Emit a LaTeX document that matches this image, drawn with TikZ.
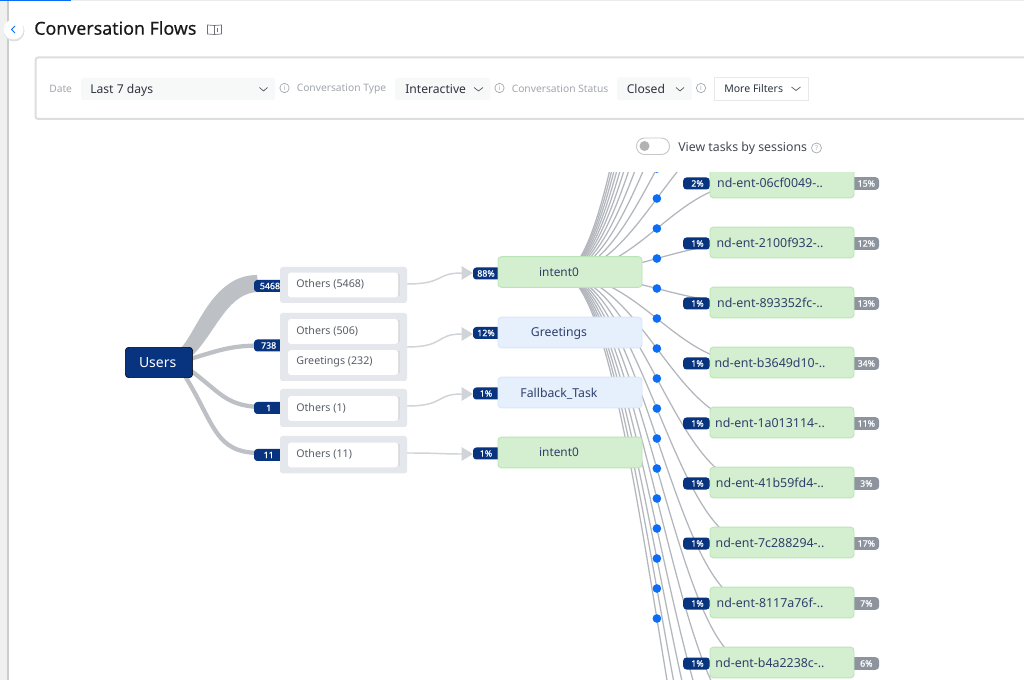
\documentclass[tikz,border=0pt]{standalone}
\usepackage{fontspec}
\setmainfont{Noto Sans}
\newfontfamily\titlefont[FakeBold=0.4]{Noto Sans}
\newfontfamily\badgefont[FakeBold=0.6]{Noto Sans}
\usetikzlibrary{arrows.meta,calc}
\definecolor{navy}{HTML}{08337F}
\definecolor{flowgray}{HTML}{B3B7BD}
\definecolor{bandgray}{HTML}{BDC1C6}
\definecolor{arrowgray}{HTML}{D0D3D7}
\definecolor{contgray}{HTML}{E4E7EB}
\definecolor{greenfill}{HTML}{D3EFCF}
\definecolor{greenline}{HTML}{BBE5B7}
\definecolor{bluefill}{HTML}{E6F0FD}
\definecolor{blueline}{HTML}{D8E6FB}
\definecolor{dotblue}{HTML}{0B6CF5}
\definecolor{badgegray}{HTML}{8D949E}
\definecolor{labelgray}{HTML}{A2A6AD}
\definecolor{textdark}{HTML}{2E3440}
\definecolor{ddfill}{HTML}{F7F8F8}
\definecolor{nodetext}{HTML}{2F3F6B}
\newcommand{\px}[1]{\fontsize{#1}{#1}\selectfont}
\tikzset{
  x=0.75pt,y=-0.75pt,
  box/.style={inner sep=0,outer sep=0,anchor=north west},
  flowline/.style={draw=flowgray,line width=0.95pt},
  link/.style={draw=bandgray,line width=3.2pt},
  feed/.style={draw=arrowgray,line width=1.1pt,-{Triangle[length=8.5pt,width=10pt]}},
  bluedot/.style={circle,fill=dotblue,minimum size=6.5pt,inner sep=0,draw=none},
  navybadge/.style={fill=navy,rounded corners=2.5pt,text=white,inner sep=0,minimum height=9pt,font=\badgefont\px{6.6}},
  graybadge/.style={fill=badgegray,rounded corners=2.5pt,text=white,inner sep=0,minimum height=9.4pt,minimum width=21pt,font=\badgefont\px{6.6}},
  greennode/.style={draw=greenline,fill=greenfill,line width=.7pt,rounded corners=2.5pt,minimum width=108pt,minimum height=23pt,inner sep=0},
  bluenode/.style={draw=blueline,fill=bluefill,line width=.7pt,rounded corners=2.5pt,minimum width=108pt,minimum height=23pt,inner sep=0},
  nodelabel/.style={text=nodetext,font=\px{9.2},inner sep=0},
  container/.style={fill=contgray,rounded corners=2pt,inner sep=0},
  whitebox/.style={fill=white,rounded corners=2pt,inner sep=0,minimum width=82.5pt,minimum height=18.5pt},
  otherlabel/.style={text=textdark!80,font=\px{8},inner sep=0,anchor=west},
  filterlabel/.style={text=labelgray,font=\px{7.7},inner sep=0,anchor=west},
  ddown/.style={fill=ddfill,rounded corners=2pt,inner sep=0},
  ddtext/.style={text=textdark,font=\px{9.1},inner sep=0,anchor=west},
  chev/.style={draw=textdark!85,line width=.5pt},
  infoicon/.style={circle,draw=labelgray,line width=.5pt,minimum size=7pt,inner sep=0,text=labelgray,font=\px{5}},
}
\begin{document}
\begin{tikzpicture}
\useasboundingbox (0,0) rectangle (1024,680);
\fill[white] (0,0) rectangle (1024,680);
% page chrome
\fill[black!6] (0,0) rectangle (7,680);
\fill[black!20] (7,0) rectangle (8.5,680);
\fill[black!8] (71,0) rectangle (1024,1.5);
\fill[dotblue] (0,0) rectangle (71,1.5);
\fill[black!12] (14,31) circle[radius=10.5];
\node[circle,fill=white,minimum size=15pt,inner sep=0] (back) at (13.5,29.5) {};
\draw[dotblue,line width=.6pt] (15,26) -- (11.5,29.5) -- (15,33);
\node[anchor=west,inner sep=0,font=\titlefont\px{13.35},text=black!90] (title) at (34,28) {Conversation Flows};
% book icon
\draw[textdark!70,line width=.5pt] (207.5,25) -- (214.5,25.5) -- (221.5,25) -- (221.5,34) -- (214.5,34.5) -- (207.5,34) -- cycle (214.5,25.5) -- (214.5,34.5);
\draw[textdark!70,line width=.5pt] (217.5,28) -- (217.5,32);
% filter bar
\draw[draw=black!13,line width=1.5pt,fill=white,rounded corners=2pt] (35.5,57.5) rectangle (1030,119);
\node[filterlabel] (ldate) at (49,88.5) {Date};
\node[ddown,box,minimum width=145.5pt,minimum height=16.5pt] (dd1) at (81,78) {};
\node[ddtext] (t1) at (90,90) {Last 7 days};
\draw[chev] (259.5,87.5) -- (263.5,91) -- (267.5,87.5);
\node[infoicon] (i1) at (284.5,88) {i};
\node[filterlabel] (ltype) at (296.5,88.5) {Conversation Type};
\node[ddown,box,minimum width=71.5pt,minimum height=16.5pt] (dd2) at (395,78) {};
\node[ddtext] (t2) at (405,89.5) {Interactive};
\draw[chev] (474,87.5) -- (478.5,91) -- (483,87.5);
\node[infoicon] (i2) at (499.5,88) {i};
\node[filterlabel] (lstat) at (511.5,88.5) {Conversation Status};
\node[ddown,box,minimum width=56pt,minimum height=17pt] (dd3) at (617,77.5) {};
\node[ddtext] (t3) at (626.5,89) {Closed};
\draw[chev] (676,87.5) -- (680,91) -- (684,87.5);
\node[infoicon] (i3) at (701,88) {i};
\node[box,draw=black!9,line width=.5pt,fill=white,minimum width=70.5pt,minimum height=17pt] (more) at (714,77.5) {};
\node[anchor=west,inner sep=0,font=\px{7.9},text=textdark] (tm) at (724,89) {More Filters};
\draw[chev] (791.5,87) -- (796,90.5) -- (800.5,87);
% toggle
\draw[draw=black!22,line width=.7pt,fill=white,rounded corners=6pt] (636.5,138) rectangle (669.5,154.5);
\node[circle,fill=black!30,minimum size=7.5pt,inner sep=0] (knob) at (644.5,146) {};
\node[anchor=west,inner sep=0,font=\px{9.25},text=textdark!90] (vt) at (678,148) {View tasks by sessions};
\node[infoicon,minimum size=7.5pt] (q) at (816.5,148) {?};
% flows
\coordinate (src) at (560,274);
\begin{scope}
\clip (0,173) rectangle (1024,680);
\foreach \ty in {-477,-417,-357,-297,-237,-177,-117,-57,3,63,123,183,243,303,363,423,483,543,603,663,723,783,843,903,963}{
  \coordinate (tg) at (750,\ty);
  \draw[flowline] (src) .. controls (640,274) and (675,\ty) .. (tg) node[bluedot,pos=.5]{};
}
% targets
\foreach \n/\y/\name/\lft/\rgt in {
  a/183/nd-ent-06cf0049-../2\%/15\%,
  b/243/nd-ent-2100f932-../1\%/12\%,
  c/303/nd-ent-893352fc-../1\%/13\%,
  d/363/nd-ent-b3649d10-../1\%/34\%,
  e/423/nd-ent-1a013114-../1\%/11\%,
  f/483/nd-ent-41b59fd4-../1\%/3\%,
  g/543/nd-ent-7c288294-../1\%/17\%,
  h/603/nd-ent-8117a76f-../1\%/7\%,
  i/663/nd-ent-b4a2238c-../1\%/6\%}{
  \node[navybadge,minimum width=20pt] (lb\n) at (696.5,\y+.5) {\hspace{1.5pt}\lft\hspace{1pt}};
  \node[graybadge] (rb\n) at (865,\y+.5) {\hspace{2pt}\rgt};
  \node[greennode] (t\n) at (782,\y-.5) {};
  \node[nodelabel,font=\px{9.3}] (tl\n) at (770,\y) {\name};
}
\end{scope}
% feeds
\coordinate (f1) at (473,273);
\coordinate (f2) at (473,334);
\coordinate (f3) at (473,394);
\coordinate (f4) at (473,454);
% user links
\fill[bandgray] (180,349) .. controls (197,332) and (212,275) .. (257,275) -- (259,292) .. controls (228,292) and (217,330) .. (193,355) -- cycle;
\coordinate (u2) at (190,359);
\coordinate (u3) at (190,370);
\coordinate (u4) at (185,376);
\coordinate (e2) at (258,345.5);
\coordinate (e3) at (258,407);
\coordinate (e4) at (258,453);
\draw[link] (u2) .. controls (220,350) and (230,346) .. (e2);
\draw[link] (u3) .. controls (220,392) and (225,405) .. (e3);
\draw[link] (u4) .. controls (215,425) and (215,452) .. (e4);
\node[navybadge,minimum width=24pt] (b1) at (270,286) {5468};
\node[navybadge,minimum width=24pt] (b2) at (270,345.5) {\hspace{-2pt}738};
\node[navybadge,minimum width=24pt] (b3) at (270,408) {\hspace{-2pt}1};
\node[navybadge,minimum width=24pt] (b4) at (270,455) {\hspace{-2pt}11};
\node[draw=black,line width=.4pt,fill=navy,rounded corners=2.5pt,minimum width=50.5pt,minimum height=22.8pt,inner sep=0,text=white,font=\px{10.5}] (users) at (159,362.5) {\hspace{-2pt}Users};
% containers
\node[container,box,minimum width=95.3pt,minimum height=27pt] (c1) at (280,267) {};
\node[container,box,minimum width=95.3pt,minimum height=51pt] (c2) at (280,313) {};
\node[container,box,minimum width=95.3pt,minimum height=28.5pt] (c3) at (280,389) {};
\node[container,box,minimum width=95.3pt,minimum height=28pt] (c4) at (280,436) {};
\foreach \n/\y/\txt in {w1/285/Others (5468),w2/331.5/Others (506),w3/362.5/Greetings (232),w4/408.5/Others (1),w5/455/Others (11)}{
  \fill[black!14] (397,\y-11) rectangle (400,\y+11);
  \node[whitebox] (\n) at (343,\y) {};
  \node[otherlabel] (l\n) at (296,\y-.5) {\txt};
}
% arrows
\draw[feed] (c1.east |- 0,284) .. controls (445,284) and (435,273) .. (f1);
\draw[feed] (c2.east |- 0,347) .. controls (445,347) and (435,334) .. (f2);
\draw[feed] (c3.east |- 0,406) .. controls (445,406) and (435,394) .. (f3);
\draw[feed] (c4.east |- 0,453) .. controls (440,453) and (440,454) .. (f4);
% middle badges and nodes
\foreach \n/\y/\p in {1/273.5/88\%,2/333/12\%,3/393.5/1\%,4/453.5/1\%}{
  \node[navybadge,minimum width=21pt] (mb\n) at (487,\y) {\hspace{-1.5pt}\p};
}
\node[greennode] (m1) at (570,272) {};
\node[bluenode] (m2) at (570,332.5) {};
\node[bluenode] (m3) at (570,392.5) {};
\node[greennode] (m4) at (570,452.5) {};
\node[nodelabel,font=\px{8.9}] (ml1) at (559,272.5) {intent0};
\node[nodelabel] (ml2) at (559,333.5) {Greetings};
\node[nodelabel] (ml3) at (559,394) {Fallback\_Task};
\node[nodelabel,font=\px{8.9}] (ml4) at (559,452.5) {intent0};
\end{tikzpicture}
\end{document}
